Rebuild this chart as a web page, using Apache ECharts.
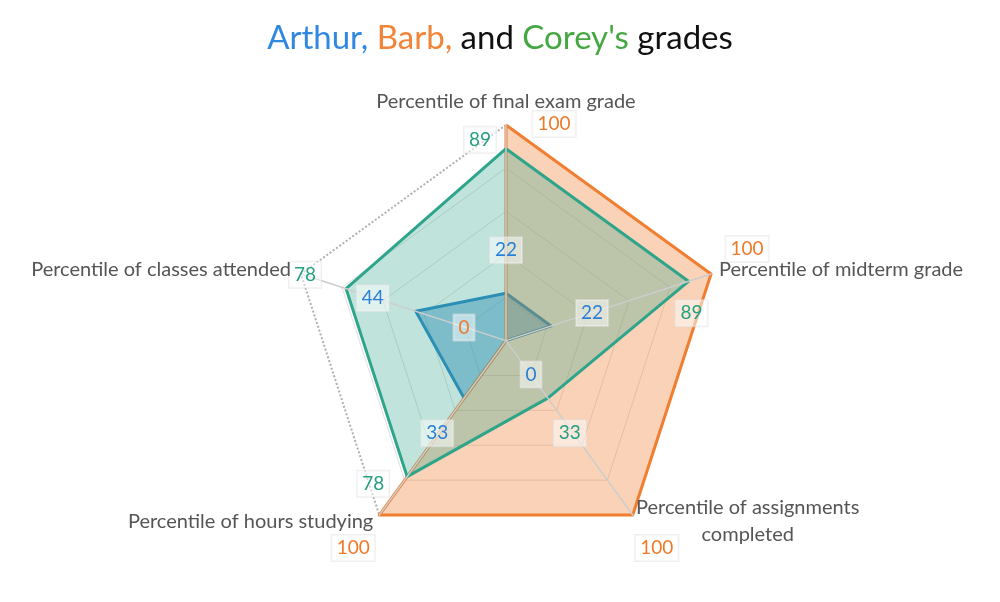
<!DOCTYPE html>
<html>
<head>
<meta charset="utf-8">
<script src="https://cdn.jsdelivr.net/npm/echarts@6/dist/echarts.min.js"></script>
<style>html,body{margin:0;padding:0;background:#fff}#c{width:1000px;height:602px}</style>
</head>
<body>
<div id="c"></div>
<script>
// ---- data ----
const categories = [
  'Percentile of final exam grade',
  'Percentile of midterm grade',
  'Percentile of assignments\ncompleted',
  'Percentile of hours studying',
  'Percentile of classes attended'
];
const seriesNames = ['Arthur', 'Barb', 'Corey'];
const arthur = [22, 22, 0, 33, 44];
const barb = [100, 100, 100, 100, 0];
const corey = [89, 89, 33, 78, 78];
const axisMax = 100;

// ---- styles ----
const FONT = 'Lato';
const colors = { Arthur: '#2c86c7', Barb: '#f07f31', Corey: '#2ea58a' };
const fills = { Arthur: 'rgba(44,134,199,0.45)', Barb: 'rgba(240,127,49,0.35)', Corey: 'rgba(46,165,138,0.30)' };
const labelColors = { Arthur: '#2a7fd6', Barb: '#f07a2a', Corey: '#25a080' };
// label offsets (px) relative to each point, per series
const labelOffsets = {
  Arthur: [[0, -43], [41, -13], [25, 34], [-27, 35], [-43, -13]],
  Barb: [[48, -1], [36, -25], [24, 33], [-26, 33], [-42, -13]],
  Corey: [[-26, -9], [3, 32], [22, 35], [-34, 7], [-41, -14]]
};
const nameLayout = [
  { align: 'center', offset: [0, -23] },
  { align: 'left', offset: [8, -4] },
  { align: 'center', offset: [115, 6] },
  { align: 'right', offset: [-6, 7] },
  { align: 'right', offset: [-10, -4] }
];
const CENTER = [506, 340.6];
const RADIUS = 215.6;

const values = { Arthur: arthur, Barb: barb, Corey: corey };
const n = categories.length;
// ECharts radar places indicators counter-clockwise; reorder so they run clockwise
const order = [0];
for (let i = n - 1; i >= 1; i--) order.push(i);
const indicator = order.map(i => ({ name: categories[i], min: 0, max: axisMax }));
const reorder = arr => order.map(i => arr[i]);

const radarBase = {
  center: CENTER, radius: RADIUS, startAngle: 90, indicator: indicator,
  splitNumber: 5, shape: 'polygon',
  axisName: { show: false }, splitArea: { show: false },
  axisTick: { show: false }, axisLabel: { show: false }
};

const radarSeries = seriesNames.map(s => ({
  type: 'radar', name: s, radarIndex: 0, z: 2,
  symbol: 'none',
  lineStyle: { color: colors[s], width: 3 },
  areaStyle: { color: fills[s], opacity: 1 },
  data: [{ value: reorder(values[s]), name: s }]
}));

const labelSeries = seriesNames.map(s => ({
  type: 'scatter', coordinateSystem: 'polar', z: 10, symbolSize: 0, silent: true,
  itemStyle: { opacity: 1 },
  data: values[s].map((v, i) => ({
    value: [v, i * 360 / n],
    label: { offset: labelOffsets[s][i] }
  })),
  label: {
    show: true, position: 'inside', formatter: p => String(p.value[0]),
    color: labelColors[s], fontFamily: FONT, fontSize: 19,
    backgroundColor: 'rgba(255,255,255,0.5)', borderColor: 'rgba(225,225,225,0.55)',
    borderWidth: 1, padding: [4, 5, 3, 5]
  }
}));

const nameSeries = {
  type: 'scatter', coordinateSystem: 'polar', z: 11, symbolSize: 0, silent: true,
  itemStyle: { opacity: 1 },
  data: categories.map((c, i) => ({
    value: [axisMax, i * 360 / n], name: c,
    label: { align: nameLayout[i].align, offset: nameLayout[i].offset }
  })),
  label: {
    show: true, position: 'inside', formatter: p => p.name, verticalAlign: 'middle',
    color: '#555555', fontFamily: FONT, fontSize: 20, lineHeight: 27
  }
};

const titleRich = {};
[['a', '#3088e0'], ['b', '#f28438'], ['d', '#46a843'], ['k', '#111111']].forEach(([k, c]) => {
  titleRich[k] = { color: c, fontSize: 33, fontFamily: FONT, fontWeight: 'normal' };
});

const chart = echarts.init(document.getElementById('c'));
chart.setOption({
  backgroundColor: '#fff',
  animation: false,
  title: {
    text: '{a|Arthur,} {b|Barb,} {k|and} {d|Corey\'s} {k|grades}',
    left: 'center', top: 17,
    textStyle: { fontFamily: FONT, fontSize: 33, fontWeight: 'normal', rich: titleRich }
  },
  radar: [
    Object.assign({}, radarBase, {
      z: 1,
      axisLine: { show: false },
      splitLine: { show: true, lineStyle: { color: ['transparent', 'rgba(0,0,0,0.13)', 'rgba(0,0,0,0.13)', 'rgba(0,0,0,0.13)', 'rgba(0,0,0,0.13)', 'transparent'], width: 1 } }
    }),
    Object.assign({}, radarBase, {
      z: 1, splitNumber: 1,
      axisLine: { show: false },
      splitLine: { show: true, lineStyle: { color: '#b0b0b0', width: 2, type: 'dotted' } }
    }),
    Object.assign({}, radarBase, {
      z: 3,
      axisLine: { show: true, lineStyle: { color: '#cdcdcd', width: 1.5 } },
      splitLine: { show: false }
    })
  ],
  polar: { center: CENTER, radius: RADIUS },
  angleAxis: { type: 'value', min: 0, max: 360, startAngle: 90, clockwise: true, show: false },
  radiusAxis: { type: 'value', min: 0, max: axisMax, show: false },
  series: radarSeries.concat(labelSeries, [nameSeries])
});
</script>
</body>
</html>
